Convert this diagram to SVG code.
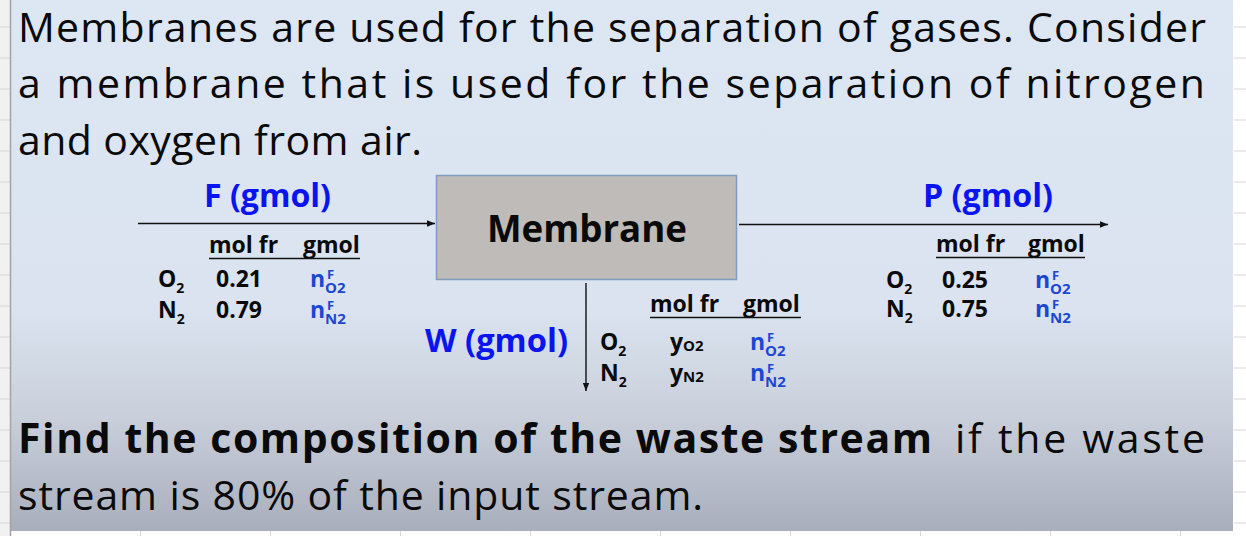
<svg xmlns="http://www.w3.org/2000/svg" width="1246" height="536" viewBox="0 0 1246 536">
<style>
.body{font-family:"Open Sans","Noto Sans",sans-serif;font-size:41px;fill:#0a0a0a}
.bold{font-weight:bold}
.hdr{font-family:"Open Sans","Noto Sans",sans-serif;font-weight:bold;font-size:33px;fill:#0a14f0}
.tbl{font-family:"Open Sans","Noto Sans",sans-serif;font-weight:bold;font-size:23px;fill:#0a0a0a}
.nb{fill:#1c46d4}
.sm{font-size:14px}
.sup{font-size:13px}
.sub{font-size:15px}
.conn{stroke:#111;stroke-width:1.4;fill:none}
.ul{stroke:#111;stroke-width:1.6}
.grid{stroke:#d6d6d6;stroke-width:1}
</style>
<defs>
<linearGradient id="bg" x1="0" y1="0" x2="0" y2="1">
<stop offset="0" stop-color="#dde7f3"/>
<stop offset="0.58" stop-color="#dae3ef"/>
<stop offset="0.78" stop-color="#c9d0dc"/>
<stop offset="1" stop-color="#a8aebb"/>
</linearGradient>
<marker id="ah" viewBox="0 0 10 10" refX="10" refY="5" markerWidth="8" markerHeight="8" markerUnits="userSpaceOnUse" orient="auto">
<path d="M0,1 L10,5 L0,9 Z" fill="#111"/>
</marker>
</defs>
<!-- spreadsheet surroundings -->
<rect x="0" y="0" width="1246" height="536" fill="#ffffff"/>
<rect x="0" y="0" width="11" height="536" fill="#f1f1f1"/>
<g class="grid">
<path d="M0,27H10M0,58H10M0,89H10M0,120H10M0,151H10M0,182H10M0,213H10M0,244H10M0,275H10M0,306H10M0,337H10M0,368H10M0,399H10M0,430H10M0,461H10M0,492H10M0,523H10"/>
<path d="M1234,27H1246M1234,58H1246M1234,89H1246M1234,120H1246M1234,151H1246M1234,182H1246M1234,213H1246M1234,244H1246M1234,275H1246M1234,306H1246M1234,337H1246M1234,368H1246M1234,399H1246M1234,430H1246M1234,461H1246M1234,492H1246M1234,523H1246"/>
<path d="M140.5,531V536M270.5,531V536M400.5,531V536M530.5,531V536M660.5,531V536M790.5,531V536M920.5,531V536M1050.5,531V536M1180.5,531V536"/>
</g>
<rect x="11" y="0" width="1222" height="531" fill="url(#bg)"/>
<line x1="10.5" y1="0" x2="10.5" y2="536" stroke="#a3a3a3" stroke-width="1.5"/>

<g id="intro-text">
<text class="body" x="18" y="42" textLength="1188" lengthAdjust="spacing">Membranes are used for the separation of gases. Consider</text>
<text class="body" x="18" y="98" textLength="1187" lengthAdjust="spacing">a membrane that is used for the separation of nitrogen</text>
<text class="body" x="18" y="155" textLength="404" lengthAdjust="spacing">and oxygen from air.</text>
</g>

<g id="connectors">
<line class="conn" x1="138" y1="223.5" x2="435" y2="223.5" marker-end="url(#ah)"/>
<line class="conn" x1="739" y1="224.5" x2="1108" y2="224.5" marker-end="url(#ah)"/>
<line class="conn" x1="586" y1="283" x2="586" y2="391" marker-end="url(#ah)"/>
</g>

<g id="membrane">
<rect x="436.5" y="175.5" width="300" height="104" fill="#bfbbb8" stroke="#7f9cc0" stroke-width="1.5"/>
<text class="tbl" style="font-size:37px" x="587" y="242" text-anchor="middle" textLength="200" lengthAdjust="spacingAndGlyphs">Membrane</text>
</g>

<g id="feed">
<text class="hdr" x="204" y="207" textLength="127" lengthAdjust="spacingAndGlyphs">F (gmol)</text>
<text class="tbl" x="209" y="253">mol fr</text>
<text class="tbl" x="303" y="253">gmol</text>
<line class="ul" x1="209" y1="258.5" x2="360" y2="258.5"/>
<text class="tbl" x="158" y="287">O<tspan class="sm" dy="6">2</tspan></text>
<text class="tbl" x="158" y="318">N<tspan class="sm" dy="6">2</tspan></text>
<text class="tbl" x="216" y="287">0.21</text>
<text class="tbl" x="216" y="318">0.79</text>
<text class="tbl nb" x="310" y="287">n<tspan class="sup" x="327" dy="-8">F</tspan><tspan class="sub" x="325" dy="14">O2</tspan></text>
<text class="tbl nb" x="310" y="318">n<tspan class="sup" x="327" dy="-8">F</tspan><tspan class="sub" x="325" dy="14">N2</tspan></text>
</g>

<g id="product">
<text class="hdr" x="923" y="207" textLength="130" lengthAdjust="spacingAndGlyphs">P (gmol)</text>
<text class="tbl" x="936" y="252">mol fr</text>
<text class="tbl" x="1028" y="252">gmol</text>
<line class="ul" x1="936" y1="257.5" x2="1085" y2="257.5"/>
<text class="tbl" x="886" y="288">O<tspan class="sm" dy="6">2</tspan></text>
<text class="tbl" x="886" y="317">N<tspan class="sm" dy="6">2</tspan></text>
<text class="tbl" x="942" y="288">0.25</text>
<text class="tbl" x="942" y="317">0.75</text>
<text class="tbl nb" x="1035" y="288">n<tspan class="sup" x="1052" dy="-8">F</tspan><tspan class="sub" x="1050" dy="14">O2</tspan></text>
<text class="tbl nb" x="1035" y="317">n<tspan class="sup" x="1052" dy="-8">F</tspan><tspan class="sub" x="1050" dy="14">N2</tspan></text>
</g>

<g id="waste">
<text class="hdr" x="425" y="352" textLength="143" lengthAdjust="spacingAndGlyphs">W (gmol)</text>
<text class="tbl" x="650" y="312">mol fr</text>
<text class="tbl" x="743" y="312">gmol</text>
<line class="ul" x1="650" y1="317.5" x2="801" y2="317.5"/>
<text class="tbl" x="600" y="350">O<tspan class="sm" dy="6">2</tspan></text>
<text class="tbl" x="600" y="381">N<tspan class="sm" dy="6">2</tspan></text>
<text class="tbl" x="670" y="350">y<tspan class="sub" dy="1">O2</tspan></text>
<text class="tbl" x="670" y="381">y<tspan class="sub" dy="1">N2</tspan></text>
<text class="tbl nb" x="750" y="350">n<tspan class="sup" x="767" dy="-8">F</tspan><tspan class="sub" x="765" dy="14">O2</tspan></text>
<text class="tbl nb" x="750" y="381">n<tspan class="sup" x="767" dy="-8">F</tspan><tspan class="sub" x="765" dy="14">N2</tspan></text>
</g>

<g id="question-text">
<text class="body bold" x="18" y="453" textLength="914" lengthAdjust="spacing">Find the composition of the waste stream</text>
<text class="body" x="955" y="453" textLength="250" lengthAdjust="spacing">if the waste</text>
<text class="body" x="18" y="510" textLength="685" lengthAdjust="spacing">stream is 80% of the input stream.</text>
</g>
</svg>
